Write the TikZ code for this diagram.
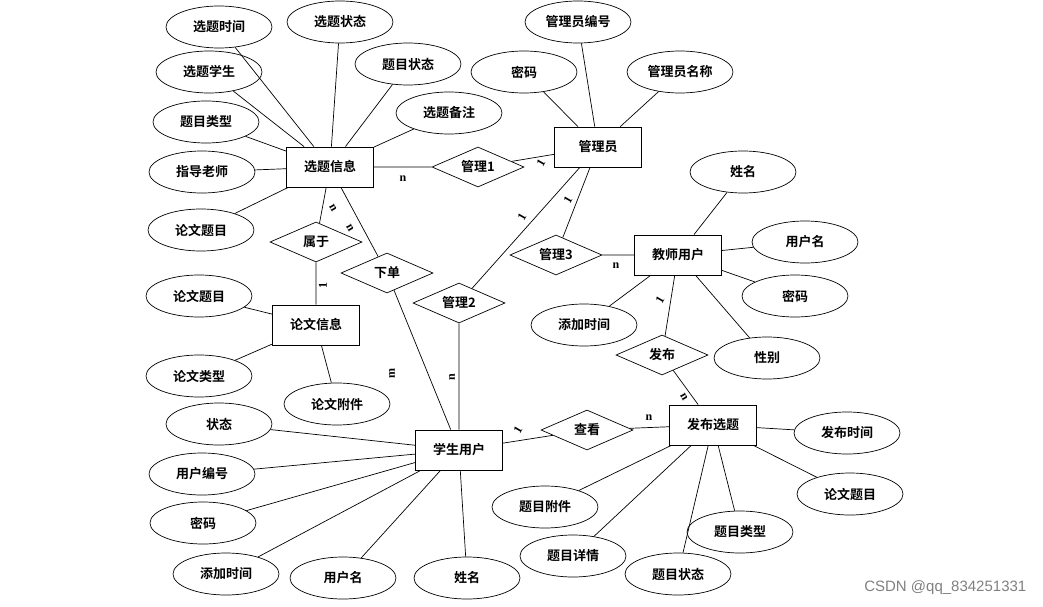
\documentclass[tikz,border=0pt]{standalone}
\usepackage{fontspec}
\setmainfont{Liberation Serif}
\newfontfamily\cjk{Noto Sans CJK SC}[BoldFont={Noto Sans CJK SC Bold}]
\usetikzlibrary{shapes.geometric}
\begin{document}
\begin{tikzpicture}[x=1pt,y=-1pt,font=\cjk\bfseries\fontsize{13}{15}\selectfont,
 ent/.style={draw,thick,minimum width=87pt,minimum height=40pt,inner sep=1pt},
 rel/.style={draw,diamond,aspect=2.3,minimum width=92pt,minimum height=40pt,inner sep=0pt},
 att/.style={draw,ellipse,minimum width=106pt,minimum height=42pt,inner sep=0pt},
 card/.style={font=\bfseries\fontsize{12}{13}\selectfont},
 every path/.style={line width=0.7pt}]
\useasboundingbox (0,0) rectangle (1043,607);
% entities
\node[ent] (xx) at (330,167) {选题信息};
\node[ent] (gly) at (598,147) {管理员};
\node[ent] (js) at (678,255) {教师用户};
\node[ent] (lw) at (316,325) {论文信息};
\node[ent] (xs) at (459,450) {学生用户};
\node[ent] (fb) at (713,425) {发布选题};
% relations
\node[rel] (g1) at (478,167) {管理1};
\node[rel] (sy) at (316,242) {属于};
\node[rel] (xd) at (387,273) {下单};
\node[rel] (g2) at (459,303) {管理2};
\node[rel] (g3) at (556,255) {管理3};
\node[rel] (fbr) at (662,355) {发布};
\node[rel] (ck) at (587,430) {查看};
% attributes
\foreach \n/\x/\y/\t/\e in {a1/219/27/选题时间/xx,a2/340/22/选题状态/xx,a3/209/72/选题学生/xx,a4/408/64/题目状态/xx,a5/206/122/题目类型/xx,a6/449/113/选题备注/xx,a7/202/172/指导老师/xx,a8/201/230/论文题目/xx,
 b1/578/22/管理员编号/gly,b2/524/72/密码/gly,b3/680/72/管理员名称/gly,
 c1/743/172/姓名/js,c2/805/242/用户名/js,c3/795/296/密码/js,c4/584/325/添加时间/js,c5/767/358/性别/js,
 d1/199/296/论文题目/lw,d2/199/376/论文类型/lw,d3/337/404/论文附件/lw,
 e1/219/424/状态/xs,e2/202/474/用户编号/xs,e3/203/523/密码/xs,e4/226/574/添加时间/xs,e5/343/578/用户名/xs,e6/467/578/姓名/xs,
 f1/847/433/发布时间/fb,f2/850/494/论文题目/fb,f3/545/507/题目附件/fb,f4/573/556/题目详情/fb,f5/740/532/题目类型/fb,f6/678/574/题目状态/fb}
 {\node[att] (\n) at (\x,\y) {\t}; \draw (\n) -- (\e);}
% relationship lines
\draw (xx) -- (g1) -- (gly);
\draw (xx) -- (sy) -- (lw);
\draw (xx) -- (xd) -- (xs);
\draw (gly) -- (g2) -- (xs);
\draw (gly) -- (g3) -- (js);
\draw (js) -- (fbr) -- (fb);
\draw (xs) -- (ck) -- (fb);
% cardinalities
\node[card] at (403,179) {n};
\node[card,rotate=60] at (541,163) {1};
\node[card,rotate=60] at (568,200) {1};
\node[card,rotate=60] at (522,217) {1};
\node[card] at (616,266) {n};
\node[card,rotate=-60] at (333,208) {n};
\node[card,rotate=90] at (323,285) {1};
\node[card,rotate=-60] at (350,228) {n};
\node[card,rotate=90] at (392,373) {m};
\node[card,rotate=90] at (452,377) {n};
\node[card,rotate=60] at (660,300) {1};
\node[card,rotate=-60] at (684,397) {n};
\node[card,rotate=60] at (518,430) {1};
\node[card] at (649,418) {n};
\node[font=\fontspec{Liberation Sans}\fontsize{15}{16}\selectfont,text=gray,anchor=east] (wm) at (1030,588) {CSDN @qq\_834251331};
\end{tikzpicture}
\end{document}
